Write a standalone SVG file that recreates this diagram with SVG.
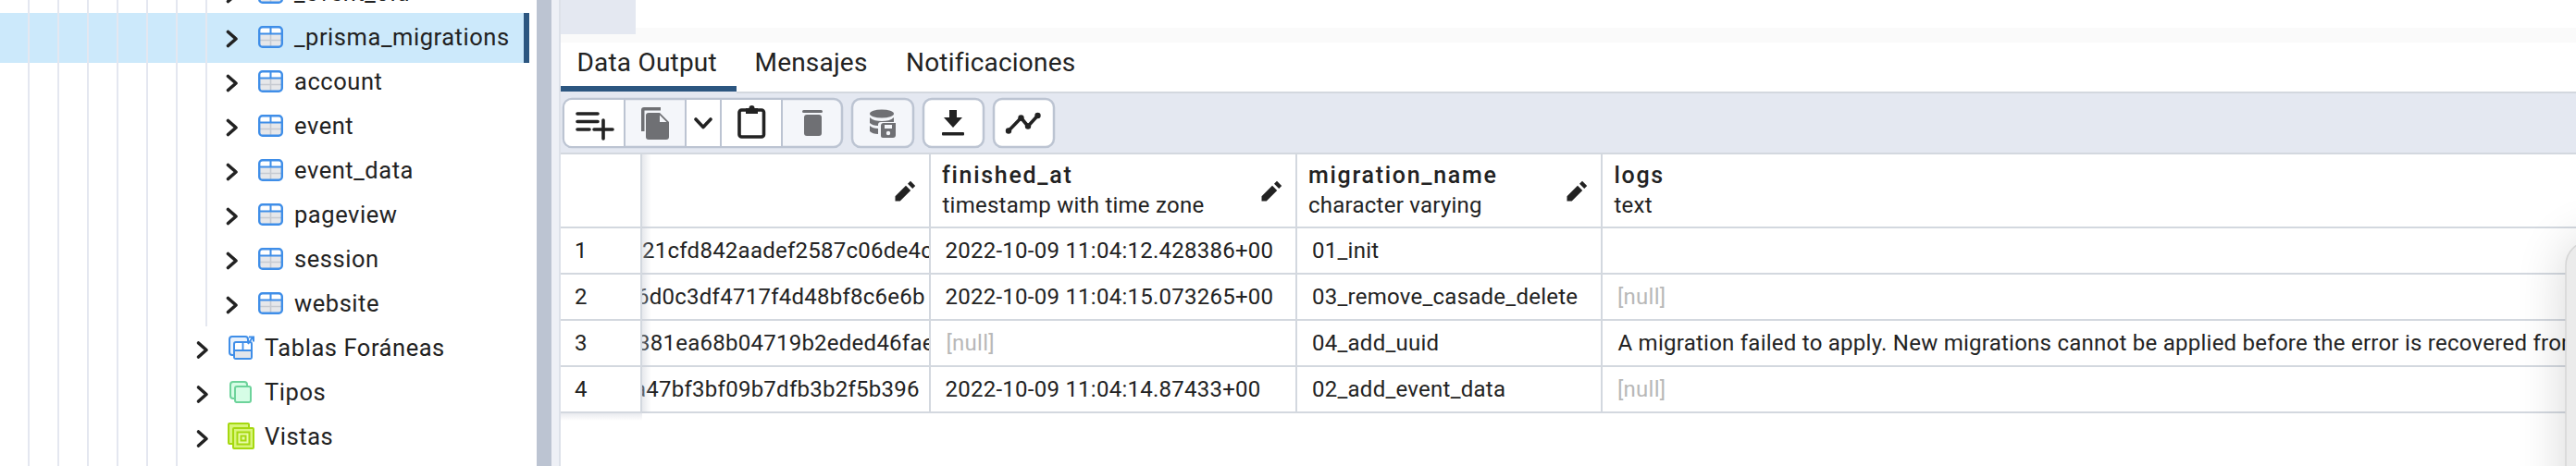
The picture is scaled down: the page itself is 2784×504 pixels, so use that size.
<svg xmlns="http://www.w3.org/2000/svg" width="2784" height="504" viewBox="0 0 2784 504">
<style>
text{font-family:Roboto,"Liberation Sans",sans-serif;fill:#222;white-space:pre}
.t{font-size:25.500px;letter-spacing:.55px}
.tab{font-size:28px;letter-spacing:.2px}
.c{font-size:24px;letter-spacing:.25px}
.h{font-size:25px;font-weight:500;letter-spacing:1.7px}
.n{fill:#b8b8b8}
.g{fill:#d3d8df}
.btn{stroke:#bcc4d2;stroke-width:2.5}
.k{fill:none;stroke:#222;stroke-width:3.6;stroke-linecap:round;stroke-linejoin:round}
</style>
<defs>
<symbol id="table" overflow="visible">
<rect x="1.200" y="1.200" width="24.600" height="21.600" rx="3.500" fill="#fff"/>
<rect x="2" y="9" width="23" height="13" rx="1.500" fill="#e6e7ea"/>
<path d="M2 15.500h23M13.500 9v13" stroke="#c6cad1" stroke-width="1.600"/>
<path d="M2 8.500h23M13.500 2v6.500" stroke="#3f8ee8" stroke-width="2"/>
<rect x="1.200" y="1.200" width="24.600" height="21.600" rx="3.500" fill="none" stroke="#3f8ee8" stroke-width="2.400"/>
</symbol>
<polyline id="chev" points="-4.500,-7.500 4,0 -4.500,7.500" class="k"/>
<path id="pen" fill="#222" d="M-10.500 10.500v-5.200l11.500-11.500 5.200 5.200-11.500 11.500zM3-8.200l3-3 5.200 5.200-3 3z"/>
<linearGradient id="sh" x1="0" x2="1" y1="0" y2="0"><stop offset="0" stop-color="#c9cdd6" stop-opacity=".45"/><stop offset="1" stop-color="#c9cdd6" stop-opacity="0"/></linearGradient>
<linearGradient id="shv" x1="0" x2="0" y1="0" y2="1"><stop offset="0" stop-color="#c9cdd6" stop-opacity=".4"/><stop offset="1" stop-color="#c9cdd6" stop-opacity="0"/></linearGradient>
<clipPath id="hash"><rect x="694" y="247" width="310" height="200"/></clipPath>
<clipPath id="logclip"><rect x="1733" y="247" width="1040" height="200"/></clipPath>
<filter id="blur" x="-50%" y="-20%" width="200%" height="140%"><feGaussianBlur stdDeviation="28"/></filter>
</defs>
<rect width="2784" height="504" fill="#fff"/>

<g id="tree">
<rect x="0" y="14" width="566" height="54" fill="#cce9fb"/>
<rect x="566" y="14" width="6" height="54" fill="#2c5680"/>
<g fill="#e4e7f0">
<rect x="30" y="0" width="2" height="504"/><rect x="62" y="0" width="2" height="504"/><rect x="94" y="0" width="2" height="504"/><rect x="126" y="0" width="2" height="504"/><rect x="158" y="0" width="2" height="504"/><rect x="190" y="0" width="2" height="504"/><rect x="222" y="0" width="2" height="353"/>
</g>
<g id="row-old"><use href="#chev" x="251" y="-6"/><use href="#table" x="279" y="-20"/><text class="t" x="318" y="1">_event_old</text></g>
<g id="row-prisma"><use href="#chev" x="251" y="42"/><use href="#table" x="279" y="28"/><text class="t" x="318" y="49">_prisma_migrations</text></g>
<g id="row-account"><use href="#chev" x="251" y="90"/><use href="#table" x="279" y="76"/><text class="t" x="318" y="97">account</text></g>
<g id="row-event"><use href="#chev" x="251" y="138"/><use href="#table" x="279" y="124"/><text class="t" x="318" y="145">event</text></g>
<g id="row-event-data"><use href="#chev" x="251" y="186"/><use href="#table" x="279" y="172"/><text class="t" x="318" y="193">event_data</text></g>
<g id="row-pageview"><use href="#chev" x="251" y="234"/><use href="#table" x="279" y="220"/><text class="t" x="318" y="241">pageview</text></g>
<g id="row-session"><use href="#chev" x="251" y="282"/><use href="#table" x="279" y="268"/><text class="t" x="318" y="289">session</text></g>
<g id="row-website"><use href="#chev" x="251" y="330"/><use href="#table" x="279" y="316"/><text class="t" x="318" y="337">website</text></g>
<g id="row-foreign"><use href="#chev" x="219" y="378.500"/>
<rect x="248" y="364" width="20" height="20" rx="3" fill="#e8f1fc" stroke="#3f8ee8" stroke-width="2"/>
<rect x="253" y="370" width="19" height="18" rx="2" fill="#fff" stroke="#3f8ee8" stroke-width="2"/>
<rect x="254" y="380" width="17" height="7" fill="#e3e5ea"/>
<path d="M254 379h17M262.500 371v8" stroke="#3f8ee8" stroke-width="1.800"/>
<path d="M268 372l5-7M269 364.500h5v5" fill="none" stroke="#3f8ee8" stroke-width="2"/>
<text class="t" x="286" y="385">Tablas Foráneas</text></g>
<g id="row-types"><use href="#chev" x="219" y="426.500"/>
<rect x="249" y="413" width="18" height="18" rx="3" fill="#d6fde6" stroke="#6dd39b" stroke-width="2"/>
<rect x="254" y="418" width="17" height="17" rx="2" fill="#d6fde6" stroke="#6dd39b" stroke-width="2"/>
<text class="t" x="286" y="433">Tipos</text></g>
<g id="row-views"><use href="#chev" x="219" y="474.500"/>
<rect x="247" y="458" width="22" height="22" rx="1" fill="#d8f57a" stroke="#a5d80f" stroke-width="2"/>
<rect x="252" y="463" width="22" height="22" rx="1" fill="#d8f57a" stroke="#a5d80f" stroke-width="2"/>
<rect x="256.500" y="467.500" width="13" height="13" fill="#e8fba8" stroke="#a5d80f" stroke-width="2"/>
<rect x="260.500" y="471.500" width="5" height="5" fill="#e8fba8" stroke="#a5d80f" stroke-width="2"/>
<text class="t" x="286" y="481">Vistas</text></g>
</g>

<g id="splitter">
<rect x="580" y="0" width="16" height="504" fill="#bcc4d2"/>
<rect x="596" y="0" width="9" height="504" fill="#eef0f6"/>
<rect x="604" y="0" width="2" height="504" fill="#dde1e9"/>
</g>

<g id="top">
<rect x="606" y="0" width="81" height="37" fill="#e4e8f1"/>
<rect x="687" y="30" width="2097" height="16" fill="#fafafa"/>
<rect x="606" y="37" width="81" height="9" fill="#fafafa"/>
</g>

<g id="tabs">
<text class="tab" x="623.500" y="77">Data Output</text>
<text class="tab" x="815.500" y="77">Mensajes</text>
<text class="tab" x="979" y="77">Notificaciones</text>
<rect x="606" y="93" width="190" height="6" fill="#2c5680"/>
</g>

<g id="toolbar">
<rect x="606" y="99" width="2178" height="68" fill="#e4e8f1"/>
<rect class="g" x="796" y="99" width="1988" height="2"/>
<rect class="g" x="606" y="165" width="2178" height="2"/>
<rect class="btn" x="609" y="107" width="301" height="52" rx="9" fill="#f4f6fa"/>
<path d="M675 108H618a8 8 0 0 0-8 8v34a8 8 0 0 0 8 8h57z" fill="#fff"/>
<rect x="741" y="108" width="104" height="50" fill="#fff"/>
<path d="M675 107v52M741 107v52M779 107v52M845 107v52" stroke="#bcc4d2" stroke-width="2"/>
<rect class="btn" x="921" y="107" width="66" height="52" rx="9" fill="#f4f6fa"/>
<rect class="btn" x="998" y="107" width="65" height="52" rx="9" fill="#fff"/>
<rect class="btn" x="1074" y="107" width="65" height="52" rx="9" fill="#fff"/>
<g id="icon-add" class="k"><path d="M624 123h22M624 131.500h22M624 140h13M652 130v20M642 140h20"/></g>
<g id="icon-copy" fill="#6f7074"><path d="M714 116H696a3 3 0 0 0-3 3v23h3.500V119.500H714z"/><path d="M701 122h12l10 10v16a3 3 0 0 1-3 3H701a3 3 0 0 1-3-3V125a3 3 0 0 1 3-3z"/><path d="M713 124.500v7.500h7.500z" fill="#f4f6fa"/></g>
<polyline id="icon-caret" class="k" points="752,129 760,137.500 768,129"/>
<g id="icon-paste"><rect class="k" x="799" y="119" width="26.500" height="29" rx="2.500"/><path d="M806 117h3.500a3 3 0 0 1 6 0h3.500v6h-13z" fill="#222"/></g>
<g id="icon-delete" fill="#6f7074"><rect x="867" y="119" width="22" height="3" rx="1.500"/><rect x="869" y="124" width="19" height="23" rx="3"/></g>
<g id="icon-save" fill="#6f7074"><ellipse cx="953" cy="123" rx="13" ry="4.500"/><path d="M940 127c3 3 8 4 13 4s10-1 13-4v5h-14a3 3 0 0 0-3 3v1c-4 0-7-1-9-3z"/><path d="M940 136c2 2 5 3 9 3v6c-4 0-7-1-9-3z"/><path d="M955 133h13v13a3 3 0 0 1-3 3h-11a2 2 0 0 1-2-2v-11a3 3 0 0 1 3-3z"/><rect x="956" y="135" width="8" height="4" fill="#f4f6fa"/><circle cx="960" cy="144" r="2.200" fill="#f4f6fa"/></g>
<g id="icon-download" fill="#222"><path d="M1026 119h8v8h6l-10 11-10-11h6z"/><rect x="1018" y="143" width="24" height="3.500" rx="1"/></g>
<g id="icon-graph"><polyline class="k" points="1090,141.500 1103.500,127.500 1111,136.500 1121.500,125"/><circle cx="1090" cy="141.500" r="3.200" fill="#222"/><circle cx="1103.500" cy="127.500" r="3.200" fill="#222"/><circle cx="1111" cy="136.500" r="3.200" fill="#222"/><circle cx="1121.500" cy="125" r="3.200" fill="#222"/></g>
</g>

<g id="grid-header">
<rect x="606" y="167" width="2178" height="78" fill="#fff"/>
<text class="h" x="1018" y="198">finished_at</text>
<text class="c" x="1018.500" y="230">timestamp with time zone</text>
<text class="h" x="1414" y="198">migration_name</text>
<text class="c" x="1414" y="230">character varying</text>
<text class="h" x="1744.500" y="198">logs</text>
<text class="c" x="1744.500" y="230">text</text>
<use href="#pen" x="978" y="207"/><use href="#pen" x="1374" y="207"/><use href="#pen" x="1704" y="207"/>
</g>

<g id="grid-cells">
<text class="c" x="621" y="279">1</text><text class="c" x="621" y="329">2</text><text class="c" x="621" y="379">3</text><text class="c" x="621" y="429">4</text>
<g clip-path="url(#hash)">
<text class="c" x="694" y="279">21cfd842aadef2587c06de4c</text>
<text class="c" x="688" y="329">6d0c3df4717f4d48bf8c6e6b</text>
<text class="c" x="689" y="379">381ea68b04719b2eded46fae</text>
<text class="c" x="685" y="429">a47bf3bf09b7dfb3b2f5b396</text>
</g>
<text class="c" x="1021.500" y="279">2022-10-09 11:04:12.428386+00</text>
<text class="c" x="1021.500" y="329">2022-10-09 11:04:15.073265+00</text>
<text class="c n" x="1022.500" y="379">[null]</text>
<text class="c" x="1021.500" y="429">2022-10-09 11:04:14.87433+00</text>
<text class="c" x="1418" y="279">01_init</text>
<text class="c" x="1418" y="329">03_remove_casade_delete</text>
<text class="c" x="1418" y="379">04_add_uuid</text>
<text class="c" x="1418" y="429">02_add_event_data</text>
<text class="c n" x="1748" y="329">[null]</text>
<text class="c n" x="1748" y="429">[null]</text>
<text class="c" x="1748.500" y="379" clip-path="url(#logclip)">A migration failed to apply. New migrations cannot be applied before the error is recovered from</text>
</g>

<g id="grid-lines" class="g">
<rect x="606" y="245" width="2178" height="2"/><rect x="606" y="295" width="2178" height="2"/><rect x="606" y="345" width="2178" height="2"/><rect x="606" y="395" width="2178" height="2"/><rect x="606" y="445" width="2178" height="2"/>
<rect x="692" y="167" width="2" height="280"/><rect x="1004" y="167" width="2" height="280"/><rect x="1400" y="167" width="2" height="280"/><rect x="1730" y="167" width="2" height="280"/>
</g>
<rect x="694" y="167" width="10" height="280" fill="url(#sh)"/>
<rect x="606" y="447" width="88" height="8" fill="url(#shv)"/>

<g id="overlay">
<rect x="2773" y="261" width="100" height="320" rx="26" fill="#000" opacity=".16" filter="url(#blur)"/>
<rect x="2773" y="261" width="60" height="300" rx="26" fill="#ebebeb" stroke="#d6d6d6" stroke-width="1.500"/>
</g>
</svg>
